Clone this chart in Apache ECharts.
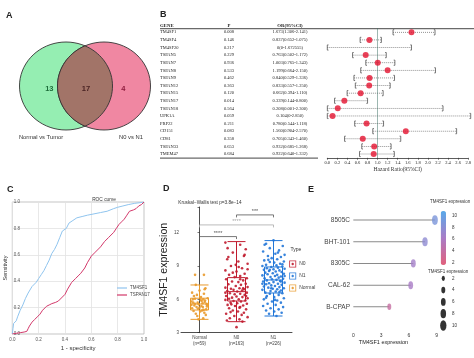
<!DOCTYPE html>
<html><head><meta charset="utf-8">
<script src="https://cdn.jsdelivr.net/npm/echarts@6/dist/echarts.min.js"></script>
<style>html,body{margin:0;padding:0;background:#fff}#c{width:474px;height:358px}</style>
</head><body><div id="c"></div>
<script>
// ================= DATA =================
// Panel A – Venn
const vennSetNames = ['Normal vs Tumor', 'N0 vs N1'];
const vennCounts = [13, 17, 4];

// Panel B – table + forest plot
const genes = ['TM4SF1','TM4SF4','TM4SF20','TSPAN5','TSPAN7','TSPAN8','TSPAN9','TSPAN12','TSPAN15','TSPAN17','TSPAN18','UPK1A','PRP22','CD151','CD81','TSPAN33','TMEM47'];
const pValues = ['0.008','0.146','0.217','0.229','0.936','0.533','0.462','0.363','0.120','0.014','0.564','0.059','0.211','0.083','0.358','0.653','0.684'];
const orValues = [1.673,0.837,0,0.763,1.003,1.199,0.840,0.833,0.662,0.339,0.208,0.104,0.780,1.560,0.705,0.932,0.922];
const ciLow   = [1.306,0.652,0,0.502,0.765,0.664,0.529,0.557,0.394,0.144,0.001,0,0.544,0.904,0.343,0.685,0.640];
const ciHigh  = [2.141,1.075,1.673,1.172,1.343,2.150,1.336,1.250,1.110,0.800,2.300,2.850,1.118,2.570,1.460,1.268,1.332];
const orText  = ['1.673(1.306-2.141)','0.837(0.652-1.075)','0(0-1.672555)','0.763(0.502-1.172)','1.003(0.765-1.343)','1.199(0.664-2.150)','0.840(0.529-1.336)','0.833(0.557-1.250)','0.662(0.394-1.110)','0.339(0.144-0.800)','0.208(0.001-2.300)','0.104(0-2.850)','0.780(0.544-1.118)','1.560(0.904-2.570)','0.705(0.343-1.460)','0.932(0.685-1.268)','0.922(0.640-1.332)'];

// Panel C – ROC curves [1-specificity, sensitivity]
const rocTM4SF1 = [[0,0],[0.005,0.04],[0.01,0.08],[0.03,0.1],[0.04,0.13],[0.06,0.18],[0.08,0.22],[0.1,0.27],[0.12,0.31],[0.15,0.36],[0.18,0.39],[0.2,0.42],[0.22,0.45],[0.24,0.48],[0.26,0.52],[0.28,0.56],[0.3,0.61],[0.32,0.64],[0.34,0.68],[0.36,0.73],[0.38,0.78],[0.41,0.8],[0.43,0.84],[0.46,0.86],[0.49,0.88],[0.53,0.89],[0.57,0.9],[0.62,0.91],[0.67,0.92],[0.72,0.93],[0.77,0.95],[0.8,0.96],[0.84,0.97],[0.88,0.98],[0.93,0.99],[0.97,0.995],[1,1]];
const rocTSPAN17 = [[0,0],[0.03,0.005],[0.06,0.01],[0.09,0.015],[0.11,0.02],[0.12,0.04],[0.13,0.06],[0.15,0.09],[0.17,0.11],[0.19,0.13],[0.21,0.15],[0.23,0.18],[0.26,0.21],[0.28,0.22],[0.3,0.23],[0.33,0.24],[0.35,0.25],[0.38,0.28],[0.4,0.3],[0.42,0.34],[0.45,0.39],[0.48,0.42],[0.5,0.44],[0.52,0.46],[0.55,0.5],[0.57,0.54],[0.6,0.59],[0.63,0.62],[0.67,0.66],[0.7,0.7],[0.73,0.73],[0.75,0.75],[0.77,0.77],[0.79,0.8],[0.81,0.83],[0.83,0.85],[0.85,0.87],[0.87,0.9],[0.89,0.93],[0.92,0.94],[0.94,0.95],[0.96,0.97],[0.98,0.98],[1,1]];

// Panel D – box plot
const boxGroups = ['Normal','N0','N1'];
const boxCounts = [59,163,226];
const boxStats = [[4.2,5.04,5.58,6.1,7.29],[3.99,5.85,6.69,7.95,11.19],[4.5,6.57,7.74,8.91,11.28]];
// jitter points: [offset within group, expression]
const ptsNormal = [[-0.12,5.6],[0.05,5.4],[0.15,5.9],[-0.2,5.2],[0.1,6.0],[-0.05,5.7],[0.2,5.5],[-0.15,6.3],[0.02,4.9],[0.18,5.1],[-0.08,5.3],[0.12,6.5],[-0.22,5.8],[0.07,5.0],[-0.1,4.7],[0.22,6.1],[-0.02,5.55],[0.14,5.75],[-0.18,6.0],[0.0,6.8],[-0.06,4.5],[0.1,4.3],[-0.14,5.45],[0.2,5.35],[0.04,6.2],[-0.2,6.6],[0.16,7.0],[-0.1,7.3],[0.08,5.65],[-0.04,5.15],[0.13,4.8],[-0.16,4.95],[0.06,5.85],[-0.12,6.05],[0.19,5.6],[-0.22,5.5],[0.0,5.25],[0.11,5.05],[-0.07,6.4],[0.17,4.6],[-0.12,8.2],[0.12,8.2],[0.03,5.95],[-0.17,5.7],[0.09,5.3],[-0.03,4.2],[0.14,6.9]];
const ptsN0 = [[-0.3,11.1],[0.1,10.9],[0.25,10.5],[-0.1,10.2],[0.2,9.9],[-0.25,9.6],[0.05,9.4],[0.3,9.2],[-0.15,9.0],[0.15,8.8],[-0.3,8.6],[0.0,8.5],[0.22,8.3],[-0.2,8.2],[0.1,8.1],[-0.05,8.0],[0.28,7.9],[-0.28,7.8],[0.18,7.7],[-0.12,7.6],[0.05,7.55],[0.25,7.4],[-0.22,7.35],[0.12,7.3],[-0.02,7.2],[0.3,7.1],[-0.3,7.05],[0.08,7.0],[-0.15,6.95],[0.2,6.9],[-0.08,6.85],[0.15,6.8],[-0.25,6.75],[0.02,6.7],[0.28,6.6],[-0.18,6.55],[0.1,6.5],[-0.05,6.45],[0.22,6.4],[-0.28,6.3],[0.0,6.25],[0.16,6.2],[-0.12,6.15],[0.3,6.1],[-0.2,6.05],[0.06,6.0],[-0.3,5.95],[0.24,5.9],[-0.08,5.85],[0.12,5.8],[-0.16,5.7],[0.02,5.65],[0.28,5.6],[-0.24,5.5],[0.18,5.45],[-0.04,5.4],[0.1,5.3],[-0.2,5.2],[0.26,5.1],[-0.1,5.0],[0.04,4.9],[0.2,4.8],[-0.28,4.7],[0.14,4.6],[-0.06,4.5],[0.3,4.4],[-0.18,4.3],[0.08,4.2],[-0.26,4.1],[0.16,4.0],[0.0,3.5],[-0.22,9.8],[0.22,10.0],[0.06,8.9],[-0.1,8.4],[0.18,7.0],[-0.3,6.6],[0.26,6.3],[-0.14,5.55],[0.1,7.8],[-0.02,9.1],[0.3,8.7],[-0.24,10.6],[0.08,5.25],[-0.16,4.85]];
const ptsN1 = [[0.0,11.3],[-0.2,11.0],[0.25,10.8],[-0.1,10.6],[0.15,10.4],[-0.28,10.3],[0.05,10.1],[0.3,10.0],[-0.15,9.9],[0.2,9.8],[-0.05,9.7],[0.1,9.6],[-0.25,9.5],[0.28,9.4],[-0.1,9.35],[0.02,9.3],[0.18,9.2],[-0.2,9.1],[0.08,9.05],[-0.3,9.0],[0.24,8.95],[-0.06,8.9],[0.12,8.85],[-0.18,8.8],[0.3,8.75],[0.0,8.7],[-0.26,8.65],[0.16,8.6],[-0.12,8.55],[0.06,8.5],[0.22,8.45],[-0.22,8.4],[-0.02,8.35],[0.28,8.3],[-0.16,8.25],[0.1,8.2],[-0.3,8.15],[0.04,8.1],[0.2,8.05],[-0.08,8.0],[0.14,7.95],[-0.24,7.9],[0.26,7.85],[-0.04,7.8],[0.08,7.75],[-0.18,7.7],[0.18,7.65],[-0.28,7.6],[0.0,7.55],[0.3,7.5],[-0.12,7.45],[0.12,7.4],[-0.2,7.35],[0.22,7.3],[-0.06,7.25],[0.04,7.2],[-0.26,7.15],[0.16,7.1],[-0.14,7.05],[0.28,7.0],[-0.02,6.95],[0.1,6.9],[-0.3,6.85],[0.2,6.8],[-0.08,6.75],[0.06,6.7],[-0.22,6.6],[0.24,6.55],[-0.1,6.5],[0.14,6.4],[-0.18,6.3],[0.02,6.2],[0.28,6.1],[-0.26,6.0],[0.1,5.9],[-0.04,5.8],[0.2,5.7],[-0.16,5.6],[0.06,5.5],[-0.28,5.4],[0.26,5.3],[-0.08,5.2],[0.14,5.1],[-0.2,5.0],[0.02,4.9],[0.22,4.8],[-0.12,4.7],[0.08,4.5],[-0.24,10.9],[0.12,10.2],[-0.14,9.55],[0.24,9.15],[-0.1,8.65],[0.3,8.1],[-0.3,7.4],[0.16,6.65],[-0.2,6.15],[0.04,5.95],[-0.06,7.0],[0.2,7.6]];
const sigPairs = [[0,1,11.64,'****'],[0,2,12.69,'****'],[1,2,13.59,'***']];

// Panel E – lollipop
const cellLines = ['8505C','BHT-101','8305C','CAL-62','B-CPAP'];
const cellExpr = [8.8,7.73,6.47,6.19,3.88];
const colorbarTicks = [2,4,6,8,10];
const sizeLegendValues = [2,4,6,8,10];

// ================= STYLE / LAYOUT =================
const SANS = '"Liberation Sans", Arial, sans-serif';
const SERIF = '"Liberation Serif", "Times New Roman", serif';
const COL = {Normal:'#E99A2C', N0:'#C01B2E', N1:'#2277D8'};
const boxColors = [COL.Normal, COL.N0, COL.N1];
const vennGeom = {c1:[66,86], c2:[104,86], r:46.5, sy:0.946, labelX:[49.3,86,123.3], labelY:89.3,
  fills:['#95EEB2','#F087A2','#A27468'], labelColors:['#1d6e3a','#4a2323','#8d1c3d']};
const sizeOf = v => { const h = 4 + 0.65*v; return [0.6*h, h]; };
const legendIcon = 'path://M0,0h10v10h-10z M1.2,1.2v7.6h7.6v-7.6z M5,3.3a1.7,1.7 0 1,0 0.01,0z';

function txt(x, y, text, font, opts) {
  opts = opts || {};
  return {type:'text', x:x, y:y, silent:true, style:Object.assign({text:text, font:font, fill:opts.fill||'#222',
    textAlign:opts.align||'left', align:opts.align||'left', textVerticalAlign:'middle', verticalAlign:'middle'}, opts.style||{})};
}

// Venn region outline (sampled, in pixel space); region 0 = set 1 circle, 1 = set 2 circle, 2 = intersection lens
function vennRegion(api, k) {
  const p1 = api.coord(vennGeom.c1), p2 = api.coord(vennGeom.c2);
  const r = api.size([vennGeom.r, 0])[0];
  const sy = vennGeom.sy, cy = p1[1];
  const pts = [];
  const N = 72;
  if (k < 2) {
    const c = k === 0 ? p1 : p2;
    for (let t = 0; t < N; t++) { const a = 2*Math.PI*t/N; pts.push([c[0]+r*Math.cos(a), cy+sy*r*Math.sin(a)]); }
  } else {
    const d = p2[0]-p1[0];
    const al = Math.acos((d/2)/r);
    const M = 36;
    for (let t = 0; t <= M; t++) { const a = -al + 2*al*t/M; pts.push([p1[0]+r*Math.cos(a), cy+sy*r*Math.sin(a)]); }
    for (let t = 1; t < M; t++) { const a = Math.PI - al + 2*al*t/M; pts.push([p2[0]+r*Math.cos(a), cy+sy*r*Math.sin(a)]); }
  }
  return pts;
}

const chart = echarts.init(document.getElementById('c'), null, {renderer:'canvas'});

const option = {
  animation:false,
  backgroundColor:'#fff',
  grid:[
    {left:0, top:0, width:160, height:150},              // 0 venn
    {left:160, top:28.5, width:160, height:129.3},       // 1 table
    {left:327.3, top:28.5, width:141.7, height:129.3},   // 2 forest
    {left:12.3, top:202, width:131.7, height:132, show:true, borderColor:'#b5b5b5', borderWidth:0.8}, // 3 roc
    {left:181, top:207, width:111, height:125.7},        // 4 box
    {left:325.5, top:209.2, width:115.9, height:108.5},  // 5 lollipop
    {left:440.7, top:211, width:5.3, height:54},         // 6 colorbar ticks
    {left:440, top:272.4, width:6.6, height:59}          // 7 size legend
  ],
  xAxis:[
    {gridIndex:0, type:'value', min:0, max:160, show:false},
    {gridIndex:1, type:'value', min:0, max:160, show:false},
    {gridIndex:2, type:'value', min:0, max:2.8, interval:0.2,
      axisLine:{show:true, lineStyle:{color:'#333', width:0.8}}, axisTick:{show:true, length:2, lineStyle:{color:'#333', width:0.6}},
      axisLabel:{fontSize:4.5, fontFamily:SERIF, color:'#222', margin:2.5, formatter:v=>v.toFixed(1)}, splitLine:{show:false},
      name:'Hazard Ratio(95%CI)', nameLocation:'middle', nameGap:8, nameTextStyle:{fontSize:5.5, fontFamily:SERIF, color:'#333'}},
    {gridIndex:3, type:'value', min:0, max:1, interval:0.2, axisLine:{show:false}, axisTick:{show:false},
      axisLabel:{fontSize:4.5, color:'#555', margin:3, formatter:v=>v.toFixed(1)}, splitLine:{show:true, lineStyle:{color:'#e2e2e2', width:0.8}},
      name:'1 - specificity', nameLocation:'middle', nameGap:11, nameTextStyle:{fontSize:6, color:'#333'}},
    {gridIndex:4, type:'category', data:boxGroups.map((g,i)=>g+'\n(n='+boxCounts[i]+')'),
      axisLine:{lineStyle:{color:'#222', width:0.8}}, axisTick:{alignWithLabel:true, length:2, lineStyle:{color:'#222', width:0.6}},
      axisLabel:{fontSize:4.5, lineHeight:6, color:'#444', margin:2}},
    {gridIndex:4, type:'value', min:-0.5, max:2.5, show:false},
    {gridIndex:5, type:'value', min:-3, max:9.5, interval:3, axisLine:{show:false}, axisTick:{show:false}, splitLine:{show:false},
      axisLabel:{fontSize:5, color:'#333', margin:15, formatter:v=>(v>=0 && v%3===0)?String(v):''},
      name:'TM4SF1 expression', nameLocation:'middle', nameGap:22, nameTextStyle:{fontSize:5.5, color:'#222'}},
    {gridIndex:6, type:'value', show:false},
    {gridIndex:7, type:'value', min:-1, max:1, show:false}
  ],
  yAxis:[
    {gridIndex:0, type:'value', min:0, max:150, inverse:true, show:false},
    {gridIndex:1, type:'category', data:genes, inverse:true, show:false},
    {gridIndex:2, type:'category', data:genes, inverse:true, show:false},
    {gridIndex:3, type:'value', min:0, max:1, interval:0.2, axisLine:{show:false}, axisTick:{show:false},
      axisLabel:{inside:true, fontSize:4.5, color:'#555', margin:1.5, formatter:v=>v.toFixed(1)},
      splitLine:{show:true, lineStyle:{color:'#e2e2e2', width:0.8}},
      name:'Sensitivity', nameLocation:'middle', nameRotate:90, nameGap:4, nameTextStyle:{fontSize:5.5, color:'#333'}},
    {gridIndex:4, type:'value', min:3, max:14.3, interval:3, axisLine:{show:true, lineStyle:{color:'#222', width:0.8}},
      axisTick:{show:true, length:2, lineStyle:{color:'#222', width:0.6}}, splitLine:{show:false},
      axisLabel:{fontSize:4.5, color:'#444', margin:2, formatter:v=>(v%3===0)?String(v):''},
      name:'TM4SF1 expression', nameLocation:'middle', nameGap:7, nameTextStyle:{fontSize:10.5, color:'#222'}},
    {gridIndex:5, type:'category', data:cellLines, inverse:true, axisLine:{show:false}, axisTick:{show:false},
      axisLabel:{inside:true, align:'right', margin:24.5, fontSize:6.5, color:'#444'}},
    {gridIndex:6, type:'value', min:1.6, max:10.8, position:'right', axisLine:{show:false}, axisTick:{show:false}, splitLine:{show:false},
      axisLabel:{customValues:colorbarTicks, fontSize:4.5, color:'#333', margin:6}},
    {gridIndex:7, type:'category', data:sizeLegendValues.map(String), inverse:true, position:'right', axisLine:{show:false}, axisTick:{show:false},
      axisLabel:{fontSize:4.5, color:'#333', margin:5.5}}
  ],
  visualMap:[{type:'continuous', seriesIndex:13, dimension:0, min:1.6, max:10.8, calculable:false, padding:0,
    left:440.7, top:211, itemWidth:5.3, itemHeight:54, text:null,
    inRange:{color:['#E2607C','#A97CC6','#58A9EA']}}],
  legend:[
    {data:['TM4SF1','TSPAN17'], left:117, top:285.5, orient:'vertical', icon:'rect', itemWidth:10, itemHeight:1.2, itemGap:2,
      padding:0, selectedMode:false, textStyle:{fontSize:4.5, color:'#444', lineHeight:5, padding:[0,0,0,-2]}},
    {data:[{name:'N0', icon:legendIcon},{name:'N1', icon:legendIcon},{name:'Normal', icon:legendIcon}],
      left:289.2, top:260.5, orient:'vertical', itemWidth:7, itemHeight:7, itemGap:5, padding:0, selectedMode:false,
      textStyle:{fontSize:5, color:'#444', padding:[0,0,0,-2]}}
  ],
  graphic:[
    txt(6, 16, 'A', 'bold 9px '+SANS),
    txt(160, 15, 'B', 'bold 9px '+SANS),
    txt(7, 190, 'C', 'bold 9px '+SANS),
    txt(163, 189, 'D', 'bold 9px '+SANS),
    txt(308, 189.3, 'E', 'bold 9px '+SANS),
    txt(41, 137, vennSetNames[0], '5.8px '+SANS, {align:'center', fill:'#333'}),
    txt(131, 137, vennSetNames[1], '5.8px '+SANS, {align:'center', fill:'#333'}),
    txt(160, 25.5, 'GENE', 'bold 4.8px '+SERIF),
    txt(229, 25.5, 'P', 'bold 4.8px '+SERIF, {align:'center'}),
    txt(290, 25.5, 'OR(95%CI)', 'bold 4.8px '+SERIF, {align:'center'}),
    {type:'line', silent:true, shape:{x1:160, y1:28.7, x2:474, y2:28.7}, style:{stroke:'#6a6a6a', lineWidth:1.2}},
    {type:'line', silent:true, shape:{x1:160, y1:158.2, x2:318, y2:158.2}, style:{stroke:'#6a6a6a', lineWidth:1.2}},
    txt(104, 199.5, 'ROC curve', '4.8px '+SANS, {align:'center', fill:'#333'}),
    txt(178.3, 202.7, 'Kruskal\u2212Wallis test p=3.8e\u221214', '4.7px '+SANS, {fill:'#333'}),
    txt(290.5, 250, 'Type', '5px '+SANS, {fill:'#333'}),
    txt(430, 201.7, 'TM4SF1 expression', '4.5px '+SANS, {fill:'#333'}),
    txt(428, 271.7, 'TM4SF1 expression', '4.5px '+SANS, {fill:'#333'})
  ],
  series:[
    // 0 venn regions (one shape per data item, drawn in order)
    {type:'custom', xAxisIndex:0, yAxisIndex:0, silent:true, data:vennCounts.map((c,i)=>[i,c]),
      renderItem:(params, api)=>{
        const k = params.dataIndex;
        return {type:'polygon', z2:k, shape:{points:vennRegion(api, k)},
          style:{fill:vennGeom.fills[k], stroke:'#333', lineWidth:0.9}};
      }},
    // 1 venn counts
    {type:'custom', xAxisIndex:0, yAxisIndex:0, silent:true, z:3, data:vennCounts.map((c,i)=>[i,c]),
      renderItem:(params, api)=>{
        const i = params.dataIndex;
        const lp = api.coord([vennGeom.labelX[i], vennGeom.labelY]);
        return {type:'text', x:lp[0], y:lp[1], style:{text:String(vennCounts[i]), font:'bold 7.5px '+SANS, fill:vennGeom.labelColors[i],
          textAlign:'center', align:'center', textVerticalAlign:'middle', verticalAlign:'middle'}};
      }},
    // 2 table
    {type:'custom', xAxisIndex:1, yAxisIndex:1, silent:true, encode:{x:0, y:1}, data:genes.map((g,i)=>[0,i]),
      renderItem:(params, api)=>{
        const i = params.dataIndex;
        const p0 = api.coord([0, i]), pp = api.coord([69, i]), po = api.coord([130, i]);
        const f = '4.5px '+SERIF;
        const mk = (x, t, a)=>({type:'text', x:x, y:p0[1], style:{text:t, font:f, fill:'#222', textAlign:a, align:a, textVerticalAlign:'middle', verticalAlign:'middle'}});
        return {type:'group', children:[mk(p0[0], genes[i], 'left'), mk(pp[0], pValues[i], 'center'), mk(po[0], orText[i], 'center')]};
      }},
    // 3 forest CI
    {type:'custom', xAxisIndex:2, yAxisIndex:2, silent:true, encode:{x:[1,2], y:0}, data:genes.map((g,i)=>[i, ciLow[i], ciHigh[i]]),
      renderItem:(params, api)=>{
        const i = api.value(0);
        const lo = api.coord([api.value(1), i]), hi = api.coord([api.value(2), i]);
        const h = 2.6, w = 1.2;
        return {type:'group', children:[
          {type:'line', shape:{x1:lo[0], y1:lo[1], x2:hi[0], y2:hi[1]}, style:{stroke:'#777', lineWidth:0.8, lineDash:[1,1]}},
          {type:'polyline', shape:{points:[[lo[0]+w,lo[1]-h],[lo[0],lo[1]-h],[lo[0],lo[1]+h],[lo[0]+w,lo[1]+h]]}, style:{stroke:'#555', lineWidth:0.8, fill:null}},
          {type:'polyline', shape:{points:[[hi[0]-w,hi[1]-h],[hi[0],hi[1]-h],[hi[0],hi[1]+h],[hi[0]-w,hi[1]+h]]}, style:{stroke:'#555', lineWidth:0.8, fill:null}}
        ]};
      }},
    // 4 forest points
    {type:'scatter', xAxisIndex:2, yAxisIndex:2, silent:true, symbolSize:6, itemStyle:{color:'#E3122E'}, z:5,
      data:orValues.map((v,i)=>[v,i]).filter(d=>d[0]>0),
      markLine:{silent:true, symbol:['none','none'], label:{show:false}, lineStyle:{type:'dotted', color:'#3b6f62', width:1}, data:[{xAxis:1}]}},
    // 5,6 ROC
    {type:'line', name:'TM4SF1', xAxisIndex:3, yAxisIndex:3, showSymbol:false, silent:true, data:rocTM4SF1, lineStyle:{width:1, color:'#8FC4EE'}, itemStyle:{color:'#8FC4EE'}},
    {type:'line', name:'TSPAN17', xAxisIndex:3, yAxisIndex:3, showSymbol:false, silent:true, data:rocTSPAN17, lineStyle:{width:1, color:'#D2386A'}, itemStyle:{color:'#D2386A'}},
    // 7 boxplot
    {type:'boxplot', xAxisIndex:4, yAxisIndex:4, silent:true, boxWidth:[18,18], z:2,
      data:boxStats.map((s,i)=>({value:s, itemStyle:{color:'rgba(255,255,255,0)', borderColor:boxColors[i], borderWidth:1}}))},
    // 8-10 jitter
    {type:'scatter', name:'Normal', xAxisIndex:5, yAxisIndex:4, silent:true, symbolSize:2.6, z:3, itemStyle:{color:COL.Normal, opacity:0.9}, data:ptsNormal.map(p=>[0+p[0], p[1]])},
    {type:'scatter', name:'N0', xAxisIndex:5, yAxisIndex:4, silent:true, symbolSize:2.6, z:3, itemStyle:{color:COL.N0, opacity:0.9}, data:ptsN0.map(p=>[1+p[0], p[1]])},
    {type:'scatter', name:'N1', xAxisIndex:5, yAxisIndex:4, silent:true, symbolSize:2.6, z:3, itemStyle:{color:COL.N1, opacity:0.9}, data:ptsN1.map(p=>[2+p[0], p[1]])},
    // 11 significance brackets
    {type:'custom', xAxisIndex:5, yAxisIndex:4, silent:true, encode:{x:[0,1], y:2}, data:sigPairs.map(s=>[s[0],s[1],s[2]]),
      renderItem:(params, api)=>{
        const i = params.dataIndex;
        const a = api.coord([api.value(0), api.value(2)]), b = api.coord([api.value(1), api.value(2)]);
        const c = i === 1 ? '#a9a9a9' : '#555';
        return {type:'group', children:[
          {type:'polyline', shape:{points:[[a[0],a[1]+2.5],[a[0],a[1]],[b[0],b[1]],[b[0],b[1]+2.5]]}, style:{stroke:c, lineWidth:0.8, fill:null}},
          {type:'text', x:(a[0]+b[0])/2, y:a[1]-0.3, style:{text:sigPairs[i][3], font:'5.5px '+SANS, fill:c, textAlign:'center', align:'center', textVerticalAlign:'bottom', verticalAlign:'bottom'}}
        ]};
      }},
    // 12 lollipop sticks
    {type:'bar', xAxisIndex:6, yAxisIndex:5, silent:true, barWidth:1, data:cellExpr, itemStyle:{color:'#8a8a8a'}},
    // 13 lollipop heads
    {type:'scatter', xAxisIndex:6, yAxisIndex:5, silent:true, z:5, data:cellExpr.map((v,i)=>[v,i]), symbolSize:d=>sizeOf(d[0])},
    // 14 size legend
    {type:'scatter', xAxisIndex:8, yAxisIndex:7, silent:true, data:sizeLegendValues.map((v,i)=>[0,i,v]), symbolSize:d=>sizeOf(d[2]), itemStyle:{color:'#000'}}
  ]
};
chart.setOption(option);
</script></body></html>
